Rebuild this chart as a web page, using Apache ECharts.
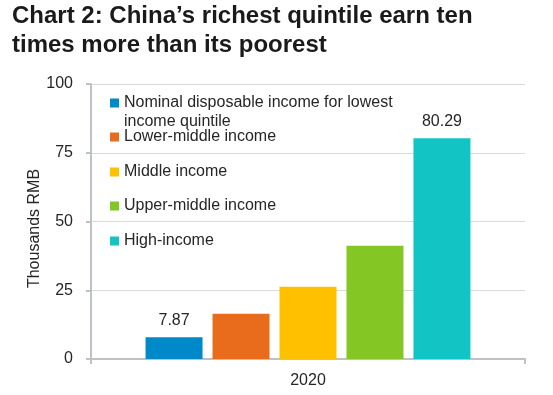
<!DOCTYPE html>
<html><head><meta charset="utf-8">
<script src="https://cdn.jsdelivr.net/npm/echarts@6/dist/echarts.min.js"></script>
<style>html,body{margin:0;padding:0;background:#fff}#c{width:553px;height:395px}</style>
</head><body><div id="c"></div>
<script>
const titleText = 'Chart 2: China\u2019s richest quintile earn ten\ntimes more than its poorest';
const categories = ['2020'];
const seriesNames = ['Nominal disposable income for lowest\nincome quintile','Lower-middle income','Middle income','Upper-middle income','High-income'];
const seriesValues = [7.87, 16.44, 26.25, 41.17, 80.29];
const seriesColors = ['#0089C9','#E96B1C','#FFC000','#84C624','#12C4C4'];
const labelShown = [true, false, false, false, true];
const yTicks = [0, 25, 50, 75, 100];
const yAxisName = 'Thousands RMB';

const FONT = '"Liberation Sans", Arial, sans-serif';
const legendTops = [74.5, 127.5, 162.5, 196.5, 231.5];

const chart = echarts.init(document.getElementById('c'), null, {renderer:'canvas'});
chart.setOption({
  animation:false,
  textStyle:{fontFamily:FONT},
  title:{text:titleText,left:12,top:2,padding:0,
    textStyle:{fontFamily:FONT,fontSize:24,fontWeight:'bold',color:'#1A1A1A',lineHeight:29}},
  legend: seriesNames.map((n,i)=>({
    data:[n], left:110, top:legendTops[i], padding:0, orient:'vertical',
    itemWidth:9, itemHeight:9, itemGap:0, selectedMode:false, icon:'rect',
    formatter: name => (i===0 ? '\n' + name : name),
    textStyle:{fontFamily:FONT,fontSize:16,color:'#262626',lineHeight:19}
  })),
  grid:{left:91,right:28,top:84,bottom:36,containLabel:false},
  xAxis:{type:'category',data:categories,
    axisLine:{lineStyle:{color:'#BEC2C6',width:2}},
    axisTick:{show:true,length:5,lineStyle:{color:'#BEC2C6',width:2}},
    axisLabel:{fontFamily:FONT,fontSize:16,color:'#262626',margin:14}},
  yAxis:{type:'value',min:yTicks[0],max:yTicks[yTicks.length-1],interval:25,
    name:yAxisName,nameLocation:'middle',nameGap:48,nameMoveOverlap:false,
    nameTextStyle:{fontFamily:FONT,fontSize:16,color:'#262626',padding:[0,14,0,0]},
    axisLine:{show:true,lineStyle:{color:'#BEC2C6',width:2}},
    axisTick:{show:true,length:5,lineStyle:{color:'#BEC2C6',width:2}},
    axisLabel:{fontFamily:FONT,fontSize:16,color:'#262626',margin:18},
    splitLine:{lineStyle:{color:'#D9D9D9',width:1}}},
  series: seriesNames.map((n,i)=>({
    name:n,type:'bar',data:[seriesValues[i]],barWidth:57,barGap:'17.5%',
    itemStyle:{color:seriesColors[i]},
    label:{show:labelShown[i],position:'top',distance:9,fontFamily:FONT,fontSize:16,color:'#262626',
      formatter:p=>p.value.toFixed(2)}
  }))
});
</script></body></html>
